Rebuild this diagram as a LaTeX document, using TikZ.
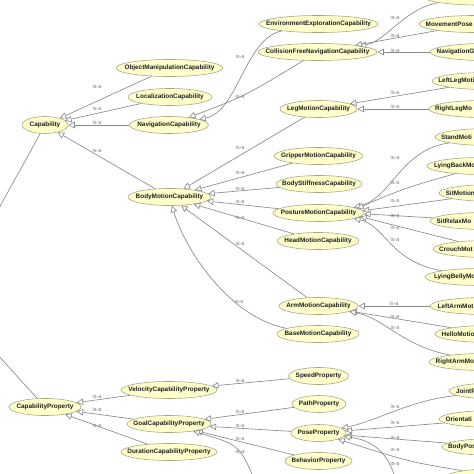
\documentclass[tikz,border=0pt]{standalone}
\usepackage{fontspec}
\setmainfont{Liberation Sans}
\usetikzlibrary{shapes.geometric,arrows.meta}
\definecolor{clsfill}{HTML}{FFFFCC}
\definecolor{clsline}{HTML}{A8A880}
\definecolor{clstext}{HTML}{1E1E1E}
\definecolor{edgec}{HTML}{8A8A8A}
\definecolor{lblc}{HTML}{7A7A7A}
\newcommand\C[1]{\makebox[0pt]{#1}}
\newcommand\R[2]{\makebox[0pt][l]{\hspace*{#1pt}#2}}
\begin{document}
\begin{tikzpicture}[x=1pt,y=-1pt,
  cls/.style={ellipse,draw=clsline,fill=clsfill,line width=0.6pt,inner sep=0pt,
    minimum height=17pt,font=\fontsize{6.4}{7}\selectfont\bfseries,text=clstext},
  rcls/.style={cls,minimum width=110pt},
  isa/.style={draw=edgec,line width=0.65pt,-{Triangle[length=6.5pt,width=6.5pt,fill=white]}},
  lbl/.style={font=\fontsize{5.5}{6}\selectfont,text=lblc,inner sep=0pt}]
\useasboundingbox (0,0) rectangle (474,474);
\clip (0,0) rectangle (474,474);
\fill[white] (0,0) rectangle (474,474);
% left column
\node[cls,minimum width=46pt] (cap) at (45,125) {\C{Capability}};
\node[cls,minimum width=72pt] (capprop) at (45,407) {\C{CapabilityProperty}};
\coordinate (thing) at (-52,300);
% second column
\node[cls,minimum width=107pt] (objm) at (169.5,68) {\C{ObjectManipulationCapability}};
\node[cls,minimum width=84pt] (loc) at (170,97) {\C{LocalizationCapability}};
\node[cls,minimum width=79pt] (nav) at (169,125) {\C{NavigationCapability}};
\node[cls,minimum width=83pt] (body) at (169.5,197) {\C{BodyMotionCapability}};
\node[cls,minimum width=96pt] (vel) at (169,390) {\C{VelocityCapabilityProperty}};
\node[cls,minimum width=84pt] (goal) at (169,424) {\C{GoalCapabilityProperty}};
\node[cls,minimum width=96pt] (dur) at (169,452) {\C{DurationCapabilityProperty}};
% third column
\node[cls,minimum width=119pt] (env) at (318.5,24) {\C{EnvironmentExplorationCapability}};
\node[cls,minimum width=119pt] (cfn) at (317.5,52) {\C{CollisionFreeNavigationCapability}};
\node[cls,minimum width=77pt] (leg) at (318.5,109) {\C{LegMotionCapability}};
\node[cls,minimum width=89pt] (grip) at (318.5,156) {\C{GripperMotionCapability}};
\node[cls,minimum width=86pt] (stiff) at (319,184) {\C{BodyStiffnessCapability}};
\node[cls,minimum width=91pt] (post) at (318.5,213) {\C{PostureMotionCapability}};
\node[cls,minimum width=82pt] (head) at (318,241) {\C{HeadMotionCapability}};
\node[cls,minimum width=79pt] (arm) at (318.5,306) {\C{ArmMotionCapability}};
\node[cls,minimum width=82pt] (base) at (318,334) {\C{BaseMotionCapability}};
\node[cls,minimum width=60pt] (speed) at (318.5,376) {\C{SpeedProperty}};
\node[cls,minimum width=54pt] (path) at (319,404) {\C{PathProperty}};
\node[cls,minimum width=55pt] (pose) at (318.5,433) {\C{PoseProperty}};
\node[cls,minimum width=67pt] (beh) at (318.5,461) {\C{BehaviorProperty}};
\coordinate (gb) at (256,484);
% right column (cut by the edge)
\node[rcls] (top) at (478,-3.5) {};
\node[rcls] (mpose) at (474,24) {\R{-48.3}{MovementPose}};
\node[rcls] (navg) at (485,52) {\R{-48.3}{NavigationG}};
\node[rcls] (lleg) at (487,81) {\R{-48.7}{LeftLegMoti}};
\node[rcls] (rleg) at (484,109) {\R{-49}{RightLegMo}};
\node[rcls] (stand) at (490,137) {\R{-49}{StandMoti}};
\node[rcls] (lback) at (482,166) {\R{-48}{LyingBackMo}};
\node[rcls] (sit) at (494,193) {\R{-48.3}{SitMotion}};
\node[rcls] (sitrelax) at (485,221) {\R{-48.3}{SitRelaxMo}};
\node[rcls] (crouch) at (488,249) {\R{-49}{CrouchMot}};
\node[rcls] (lbelly) at (480,277) {\R{-46}{LyingBellyMo}};
\node[rcls] (larm) at (485,306) {\R{-47.3}{LeftArmMot}};
\node[rcls] (hello) at (490,334) {\R{-48.3}{HelloMotio}};
\node[rcls] (rarm) at (484,362) {\R{-48.3}{RightArmMo}};
\node[rcls] (joint) at (504,391) {\R{-48}{JointP}};
\node[rcls] (orient) at (494,419) {\R{-48.3}{Orientati}};
\node[rcls] (bodypos) at (497,447) {\R{-49}{BodyPos}};
\node[rcls] (br) at (501,477) {};
\coordinate (pb) at (397,486);
% edges
\draw[isa] (cap) -- (thing);
\draw[isa] (capprop) -- (thing);
\draw[isa] (objm) -- (cap);
\draw[isa] (loc) -- (cap);
\draw[isa] (nav) -- (cap);
\draw[isa] (body) -- (cap);
\draw[isa] (env) .. controls (245,38) and (238,112) .. (nav);
\draw[isa] (cfn) .. controls (245,96) .. (nav);
\draw[isa] (leg) -- (body);
\draw[isa] (grip) -- (body);
\draw[isa] (stiff) -- (body);
\draw[isa] (post) -- (body);
\draw[isa] (head) -- (body);
\draw[isa] (arm) -- (body);
\draw[isa] (base) .. controls (230,318) and (185,250) .. (body);
\draw[isa] (top) .. controls (405,8) and (385,42) .. (cfn);
\draw[isa] (mpose) -- (cfn);
\draw[isa] (navg) -- (cfn);
\draw[isa] (lleg) -- (leg);
\draw[isa] (rleg) -- (leg);
\draw[isa] (stand) .. controls (400,150) and (392,198) .. (post.9);
\draw[isa] (lback) .. controls (405,188) .. (post.7);
\draw[isa] (sit) -- (post.3);
\draw[isa] (sitrelax) -- (post.-1);
\draw[isa] (crouch) -- (post.-5);
\draw[isa] (lbelly) .. controls (390,262) and (385,225) .. (post.-9);
\draw[isa] (larm) -- (arm);
\draw[isa] (hello) -- (arm);
\draw[isa] (rarm) .. controls (400,345) and (385,318) .. (arm);
\draw[isa] (vel) -- (capprop);
\draw[isa] (goal) -- (capprop);
\draw[isa] (dur) -- (capprop);
\draw[isa] (speed) -- (vel);
\draw[isa] (path) -- (goal);
\draw[isa] (pose) -- (goal);
\draw[isa] (beh) -- (goal);
\draw[isa] (gb) .. controls (240,445) .. (goal);
\draw[isa] (joint) .. controls (410,400) and (380,420) .. (pose);
\draw[isa] (orient) -- (pose);
\draw[isa] (bodypos) -- (pose);
\draw[isa] (br) .. controls (410,462) .. (pose);
\draw[isa] (pb) .. controls (390,450) and (370,440) .. (pose);
% labels
\node[lbl] (l1) at (97,87) {is-a};
\node[lbl] (l2) at (97,109) {is-a};
\node[lbl] (l3) at (97,123) {is-a};
\node[lbl] (l4) at (97,151) {is-a};
\node[lbl] (l5) at (97,397) {is-a};
\node[lbl] (l6) at (97,410) {is-a};
\node[lbl] (l7) at (97,426) {is-a};
\node[lbl] (m1) at (240,57) {is-a};
\node[lbl] (m2) at (240,97) {is-a};
\node[lbl] (m3) at (240,148) {is-a};
\node[lbl] (m4) at (240,173) {is-a};
\node[lbl] (m5) at (240,189) {is-a};
\node[lbl] (m6) at (240,202) {is-a};
\node[lbl] (m7) at (240,218) {is-a};
\node[lbl] (m8) at (240,244) {is-a};
\node[lbl] (m9) at (239,302) {is-a};
\node[lbl] (m10) at (240,381) {is-a};
\node[lbl] (m11) at (240,412) {is-a};
\node[lbl] (m12) at (240,426) {is-a};
\node[lbl] (m13) at (240,439) {is-a};
\node[lbl] (m14) at (240,452) {is-a};
\node[lbl] (r1) at (395,18) {is-a};
\node[lbl] (r2) at (395,36) {is-a};
\node[lbl] (r3) at (395,51) {is-a};
\node[lbl] (r4) at (395,93) {is-a};
\node[lbl] (r5) at (395,107) {is-a};
\node[lbl] (r6) at (395,158) {is-a};
\node[lbl] (r7) at (395,183) {is-a};
\node[lbl] (r8) at (395,201) {is-a};
\node[lbl] (r9) at (395,216) {is-a};
\node[lbl] (r10) at (395,228) {is-a};
\node[lbl] (r11) at (395,240) {is-a};
\node[lbl] (r12) at (394,304) {is-a};
\node[lbl] (r13) at (395,317) {is-a};
\node[lbl] (r14) at (395,328) {is-a};
\node[lbl] (r15) at (395,407) {is-a};
\node[lbl] (r16) at (395,423) {is-a};
\node[lbl] (r17) at (395,438) {is-a};
\node[lbl] (r18) at (395,450) {is-a};
\node[lbl] (r19) at (395,464) {is-a};
\end{tikzpicture}
\end{document}
